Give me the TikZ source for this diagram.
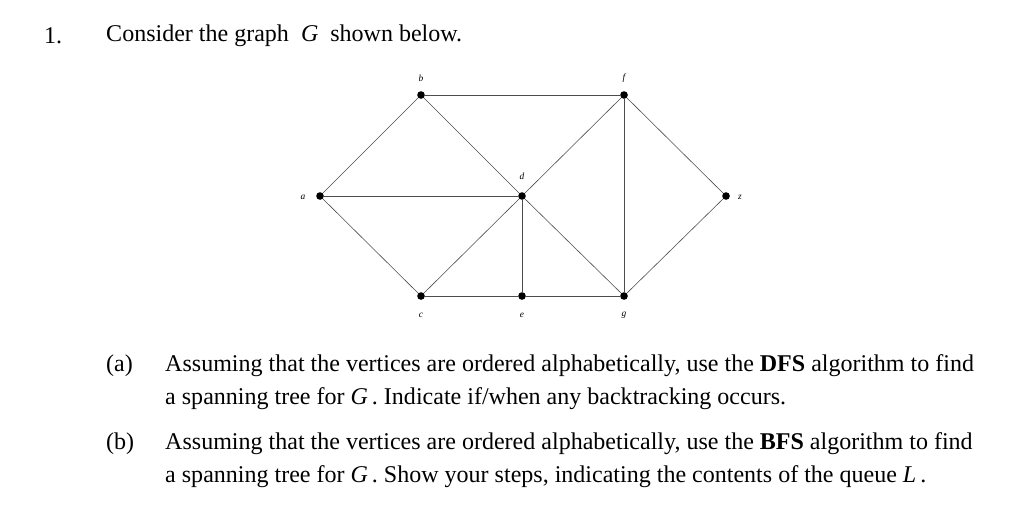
\documentclass[tikz,border=0pt]{standalone}
\usepackage{fontspec}
\setmainfont{Liberation Serif}
\begin{document}
\begin{tikzpicture}[x=0.03cm,y=-0.03cm,
  v/.style={circle,fill=black,inner sep=0pt,minimum size=6.5pt},
  lab/.style={font=\fontsize{8}{9}\selectfont\itshape},
  e/.style={draw=black!70,line width=0.5pt},
  txt/.style={anchor=west,inner sep=0pt,font=\fontsize{20.5}{24}\selectfont}]
\useasboundingbox (0,0) rectangle (1024,526);
\node[txt] (n1) at (44,36) {1.};
\node[txt] (t0) at (106,36) {Consider the graph \ \textit{G} \ shown below.};
\node[v] (a) at (320,196) {};
\node[v] (b) at (421,95) {};
\node[v] (f) at (624,95) {};
\node[v] (d) at (522,196) {};
\node[v] (z) at (726,196) {};
\node[v] (c) at (421,296) {};
\node[v] (e) at (522,296) {};
\node[v] (g) at (624,296) {};
\node[lab] (la) at (303,197) {a};
\node[lab] (lb) at (421,78) {b};
\node[lab] (lf) at (624,78) {f};
\node[lab] (ld) at (522,176) {d};
\node[lab] (lz) at (740,197) {z};
\node[lab] (lc) at (421,315) {c};
\node[lab] (le) at (522,315) {e};
\node[lab] (lg) at (624,315) {g};
\foreach \p/\q in {a/b,a/d,a/c,b/f,b/d,f/d,f/g,f/z,z/g,d/c,d/e,d/g,c/e,e/g}
  \draw[e] (\p) -- (\q);
\node[txt] (pa) at (106,366) {(a)};
\node[txt] (ta1) at (165,366) {Assuming that the vertices are ordered alphabetically, use the \textbf{DFS} algorithm to find};
\node[txt] (ta2) at (165,399) {a spanning tree for \textit{G}\,. Indicate if/when any backtracking occurs.};
\node[txt] (pb) at (106,444) {(b)};
\node[txt] (tb1) at (165,444) {Assuming that the vertices are ordered alphabetically, use the \textbf{BFS} algorithm to find};
\node[txt] (tb2) at (165,477) {a spanning tree for \textit{G}\,. Show your steps, indicating the contents of the queue \textit{L}\,.};
\end{tikzpicture}
\end{document}
